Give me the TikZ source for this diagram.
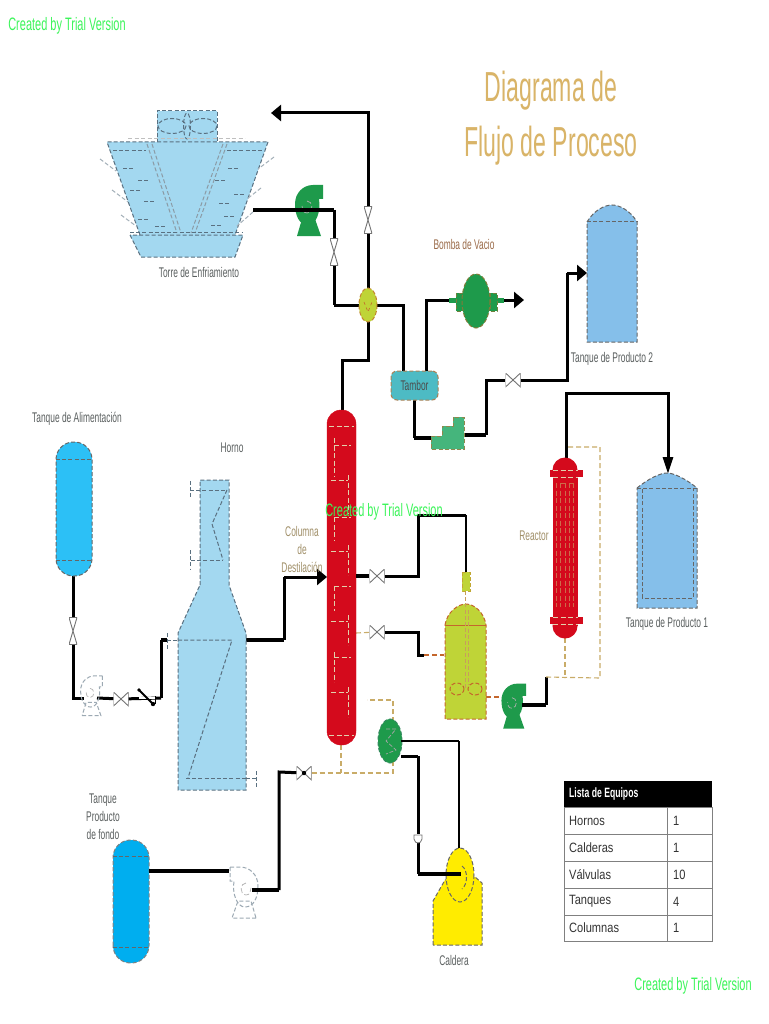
\documentclass[tikz,border=0pt]{standalone}
\usepackage{fontspec}
\setmainfont[FakeStretch=0.6]{Liberation Sans}
\newfontfamily\wmf[FakeStretch=0.61]{Liberation Sans}
\newfontfamily\ttlf[FakeStretch=0.55]{Liberation Sans}
\newfontfamily\cellf[FakeStretch=0.82]{Liberation Sans}
\newfontfamily\hdrf[FakeStretch=0.64]{Liberation Sans}
\usetikzlibrary{arrows.meta}
\definecolor{towerc}{HTML}{A3D8F0}
\definecolor{feedc}{HTML}{2CC0F6}
\definecolor{botc}{HTML}{00AEEF}
\definecolor{prodc}{HTML}{85BFEA}
\definecolor{colc}{HTML}{D40A1C}
\definecolor{agit}{HTML}{BFD437}
\definecolor{pumpg}{HTML}{1E9A4B}
\definecolor{stairc}{HTML}{45B57C}
\definecolor{tamc}{HTML}{4DBBC4}
\definecolor{yelc}{HTML}{FFEC00}
\definecolor{tan}{HTML}{C9AC68}
\definecolor{rust}{HTML}{C4662C}
\definecolor{edgeg}{HTML}{5A7080}
\definecolor{titlec}{HTML}{D9B468}
\definecolor{wm}{HTML}{3CF55A}
\definecolor{lab}{HTML}{5A5F5F}
\definecolor{labtan}{HTML}{A08F68}
\definecolor{labbr}{HTML}{9A6A48}
\tikzset{
  pipe/.style={draw=black,line width=3pt,line join=miter},
  pipeT/.style={draw=black,line width=2.4pt,line join=miter},
  pipeB/.style={draw=black,line width=4pt,line join=miter},
  tip/.style={-{Triangle[length=10pt,width=16pt]}},
  tipS/.style={-{Triangle[length=17pt,width=10pt]}},
  dashL/.style={line width=1pt,dash pattern=on 4pt off 2.2pt},
  outl/.style={dashL,draw=edgeg},
  tandash/.style={line width=1.1pt,dash pattern=on 5pt off 3pt,draw=tan},
  rustdash/.style={line width=1.1pt,dash pattern=on 5pt off 3pt,draw=rust},
  pale/.style={line width=.7pt,dash pattern=on 5pt off 2.5pt,draw=tan!55},
  valveh/.style={inner sep=0,minimum width=15pt,minimum height=14pt,path picture={
    \draw[fill=white,draw=black!55,line width=.9pt]
      (path picture bounding box.north west) -- (path picture bounding box.south east) --
      (path picture bounding box.north east) -- (path picture bounding box.south west) -- cycle;}},
  valvev/.style={inner sep=0,minimum width=8pt,minimum height=27pt,path picture={
    \draw[fill=white,draw=black!55,line width=.9pt]
      (path picture bounding box.north west) -- (path picture bounding box.north east) --
      (path picture bounding box.south west) -- (path picture bounding box.south east) -- cycle;}},
  lbl/.style={inner sep=0,align=center,text=lab,font=\fontsize{14}{18}\selectfont},
  wmk/.style={inner sep=0,text=wm,font=\wmf\fontsize{18}{20}\selectfont},
  ttl/.style={inner sep=0,text=titlec,font=\ttlf\fontsize{42}{44}\selectfont},
  cell/.style={inner sep=0,anchor=west,text=black!80,font=\cellf\fontsize{13.5}{15}\selectfont},
  pump/.pic={
    \path[pic actions] (16,-22) -- (16,-8) -- (12,-8) .. controls (14,5) and (9,18) .. (1,18)
       .. controls (-8,18) and (-12,8) .. (-12,-3) .. controls (-12,-14) and (-4,-22) .. (6,-22) -- cycle;
    \path[pic actions] (-10,29) -- (14,29) -- (8,12) -- (-5,12) -- cycle;
    \draw[pale,draw=white!70!black] (0,-6) .. controls (6,-6) and (7,5) .. (0,6) .. controls (-4,6) and (-5,2) .. (-5,-1);
  }
}
\begin{document}
\begin{tikzpicture}[x=1pt,y=-1pt]
\path[fill=white] (0,0) rectangle (768,1024);
\useasboundingbox (0,0) rectangle (768,1024);

% ---- junction coordinates
\coordinate (twrOut) at (253,210);
\coordinate (twrBend) at (334,210);
\coordinate (topBend) at (334,305);
\coordinate (sepL) at (368,305);
\coordinate (sepR) at (403,305);
\coordinate (tamIn) at (403,372);
\coordinate (ventEnd) at (271,113);
\coordinate (colTop) at (342,410);
\coordinate (colUp) at (342,360);
\coordinate (sepDown) at (368,360);
\coordinate (tamOutA) at (426,372);
\coordinate (tamOutB) at (426,300);
\coordinate (vacIn) at (450,300);
\coordinate (vacOut) at (503,300);
\coordinate (vacEnd) at (524,300);
\coordinate (tamBot) at (414,400);
\coordinate (tamBotB) at (414,438);
\coordinate (stairIn) at (432,438);
\coordinate (stairOut) at (465,435);
\coordinate (stairB) at (486,435);
\coordinate (stairC) at (486,380);
\coordinate (p2A) at (567,380);
\coordinate (p2B) at (567,273);
\coordinate (p2End) at (587,273);
\coordinate (reaTop) at (566,458);
\coordinate (reaA) at (566,393);
\coordinate (reaB) at (668,393);
\coordinate (p1End) at (668,474);
\coordinate (hornOut) at (246,640);
\coordinate (hornB) at (284,640);
\coordinate (hornC) at (284,577);
\coordinate (colIn) at (327,577);
\coordinate (feedBot) at (73,576);
\coordinate (feedB) at (73,698);
\coordinate (pumpF) at (84,698);
\coordinate (pumpFr) at (97,698);
\coordinate (chkR) at (161,698);
\coordinate (chkU) at (161,640);
\coordinate (hornIn) at (167,640);
\coordinate (colS1) at (356,576);
\coordinate (s1B) at (418,576);
\coordinate (s1C) at (418,515);
\coordinate (s1D) at (466,515);
\coordinate (motorT) at (466,572);
\coordinate (s2B) at (418,632);
\coordinate (s2C) at (418,655);
\coordinate (s2D) at (424,655);
\coordinate (p3Out) at (522,705);
\coordinate (p3B) at (546,705);
\coordinate (p3C) at (546,677);
\coordinate (rebA) at (401,741);
\coordinate (rebB) at (459,741);
\coordinate (calT) at (459,851);
\coordinate (rebC) at (401,756);
\coordinate (rebD) at (418,756);
\coordinate (rebE) at (418,874);
\coordinate (calIn) at (461,874);
\coordinate (botOut) at (149,871);
\coordinate (botIn) at (229,871);
\coordinate (wpOut) at (252,890);
\coordinate (wpB) at (279,890);
\coordinate (wpC) at (279,772);

% ---- valves
\node[valvev] (v1) at (334,252) {};
\node[valvev] (v2) at (368,220) {};
\node[valveh] (v3) at (513,380) {};
\node[valvev] (v4) at (73,631) {};
\node[valveh] (v5) at (121,699) {};
\node[valveh] (v6) at (377,576) {};
\node[valveh] (v7) at (377,632) {};
\node[valveh] (v8) at (304,773) {};
\node[inner sep=0,minimum size=8pt] (v9) at (418,838) {};

% ---- pipes
\draw[pipe] (twrBend) -- (v1);
\draw[pipe] (v1) -- (topBend);
\draw[pipe] (topBend) -- (sepL);
\draw[pipe] (sepL) -- (sepR) -- (tamIn);
\draw[pipe] (sepL) -- (v2);
\draw[pipe,tip] (v2) |- (ventEnd);
\draw[pipe] (colTop) -- (colUp) -- (sepDown) -- (sepL);
\draw[pipe] (tamOutA) -- (tamOutB) -- (vacIn);
\draw[pipe,tip] (vacOut) -- (vacEnd);
\draw[pipe] (tamBot) -- (tamBotB);
\draw[pipeB] (tamBotB) -- (stairIn);
\draw[pipeB] (stairOut) -- (stairB);
\draw[pipe] (stairB) -- (stairC) -- (v3);
\draw[pipe] (v3) -- (p2A) -- (p2B);
\draw[pipe,tip] (p2B) -- (p2End);
\draw[pipe,tipS] (reaTop) -- (reaA) -- (reaB) -- (p1End);
\draw[pipeB] (hornOut) -- (hornB);
\draw[pipe] (hornB) -- (hornC);
\draw[pipe] (feedBot) -- (v4);
\draw[pipe] (v4) -- (feedB) -- (pumpF);
\draw[pipe] (pumpFr) -- (v5);
\draw[pipe] (v5) -- (chkR);
\draw[pipe] (chkR) -- (chkU);
\draw[pipeB] (chkU) -- (hornIn);
\draw[pipe] (v6) -- (s1B) -- (s1C);
\draw[pipe] (s1C) -- (s1D);
\draw[pipeT] (s1D) -- (motorT);
\draw[pipe] (v7) -- (s2B) -- (s2C) -- (s2D);
\draw[pipe] (p3B) -- (p3C);
\draw[pipeT] (rebB) -- (calT);
\draw[pipe] (rebD) -- (v9);
\draw[pipe] (v9) -- (rebE);
\draw[pipe] (wpB) -- (wpC) -- (v8);

% check valve on the feed line
\coordinate (chkA) at (139,690);
\coordinate (chkB) at (153,704);
\draw[line width=2.5pt,white] (139,698) -- (155,698);
\draw[line width=1.8pt] (chkA) -- (chkB);
\fill (chkA) circle (1.8pt) (chkB) circle (2.2pt);
\draw[line width=1pt] (155,704) -- (155,696);
% valve dot
\fill (304,773) circle (2.2pt);
% small heart valve
\draw[fill=white,draw=black!55,line width=.8pt] (414,835) -- (422,835) -- (422,839) .. controls (422,842) and (419,843) .. (418,843) .. controls (417,843) and (414,842) .. (414,839) -- cycle;

% ---- dashed lines
\draw[tandash] (356,633) -- (v7);
\draw[rustdash] (s2D) -- (444,655);
\draw[rustdash] (486,697) -- (503,697);
\draw[tandash] (p3C) -- (600,678) -- (600,447) -- (566,447);
\draw[tandash] (565,638) -- (565,678);
\draw[tandash] (341,745) -- (341,773);
\draw[tandash] (v8) -- (393,773) -- (393,762);
\draw[tandash] (393,722) -- (393,700) -- (367,700);
\draw[outl,dash pattern=on 4pt off 2pt] (167,640) -- (178,640);
\draw[outl] (167,633) -- (167,649);

% ---- cooling tower
\fill[towerc] (157,111) rectangle (217,143);
\draw[outl] (157,143) -- (157,111) -- (217,111) -- (217,143);
\draw[outl] (172,126) ellipse (14 and 7.5);
\draw[outl] (203,126) ellipse (14 and 7.5);
\draw[outl] (187,126) ellipse (3.5 and 13);
\fill[towerc] (107,142) -- (268,142) -- (235,235) -- (140,235) -- cycle;
\draw[outl] (268,142) -- (235,235) (140,235) -- (107,142) -- (268,142);
\draw[line width=.8pt,dash pattern=on 4pt off 2.5pt,draw=black!25] (128,138) -- (245,138);
\fill[towerc] (130,235) -- (243,235) -- (235,257) -- (141,257) -- cycle;
\draw[outl] (130,235) -- (141,257) -- (235,257) -- (243,235) -- cycle;
\draw[outl,draw=edgeg!70] (147,144) -- (177,233) (152,144) -- (181,233);
\draw[outl,draw=edgeg!70] (227,144) -- (195,233) (223,144) -- (191,233);
\draw[outl] (130,233) -- (243,233);
\draw[outl] (113,151) -- (146,151) (227,151) -- (262,151);
\foreach \x/\y in {124/168,139/180,131/190,229/168,216/180,235/194,220/203,212/225,225/216,145/201,139/219,156/226}{
  \draw[line width=.9pt,draw=edgeg,dash pattern=on 4pt off 2pt] (\x-1,\y) -- (\x+10,\y);
}
\draw[outl,draw=edgeg!55] (100,159) -- (116,171) (112,190) -- (128,202) (121,215) -- (136,226);
\draw[outl,draw=edgeg!55] (274,157) -- (258,169) (261,188) -- (247,199) (253,212) -- (237,226);

% ---- pump 1
\pic[fill=pumpg] at (307,207) {pump};
\draw[pipeB] (twrOut) -- (twrBend);

% ---- sep drum
\draw[fill=agit,draw=rust!70!agit,dashL] (368,305) ellipse (9 and 17);
\draw[rust,line width=.6pt,dash pattern=on 3pt off 3pt] (364,302) -- (368,312) -- (372,302);

% ---- vacuum pump
\fill[pumpg] (449,298) rectangle (457,303);
\fill[pumpg] (456,293) rectangle (497,311);
\fill[pumpg] (497,298) rectangle (504,303);
\draw[rust!50!pumpg,dashL] (456,293) rectangle (463,311) (490,293) rectangle (497,311);
\draw[fill=pumpg,draw=rust!60!pumpg,dashL] (476,301) ellipse (14 and 27);

% ---- tambor
\node[draw=brown!70!gray,fill=tamc,dashL,rounded corners=6pt,minimum width=47pt,minimum height=29pt,inner sep=0,text=black!70,font=\fontsize{14}{15}\selectfont] (tambor) at (414.5,385.5) {Tambor};

% ---- stair compressor
\draw[fill=stairc,draw=rust!60!stairc,dashL] (431,436) -- (442,436) -- (442,426) -- (453,426) -- (453,417) -- (464,417) -- (464,449) -- (431,449) -- cycle;

% ---- product tank 2
\draw[fill=prodc,draw=black!60,dashL] (587,222) .. controls (594,210) and (605,205) .. (612,205) .. controls (619,205) and (630,210) .. (637,222) -- (637,342) -- (587,342) -- cycle;
\draw[draw=black!60,dashL] (587,222) -- (637,222);

% ---- product tank 1
\draw[fill=prodc,draw=black!60,dashL] (637,488) .. controls (648,479) and (660,473) .. (667,473) .. controls (674,473) and (686,479) .. (697,488) -- (697,608) -- (637,608) -- cycle;
\draw[draw=black!60,dashL] (637,488) -- (697,488) (642,489) -- (642,598) -- (693,598) -- (693,489);

% ---- feed tank
\draw[fill=feedc,draw=black!60,dashL,rounded corners=17.5pt] (56,576) -- (56,442) -- (92,442) -- (92,576) -- cycle;
\draw[draw=black!60,dashL] (56,459) -- (92,459) (56,560) -- (92,560);

% ---- bottom tank
\draw[fill=botc,draw=black!50,dashL,rounded corners=17.5pt] (113,963) -- (113,840) -- (149,840) -- (149,963) -- cycle;
\draw[draw=black!60,dashL] (113,856) -- (149,856) (113,947) -- (149,947);

% ---- white pumps
\pic[draw=edgeg!60,dashL,scale=.78] at (90,693) {pump};
\pic[draw=edgeg!60,dashL,xscale=-1] at (246,889) {pump};
\draw[pipeB] (botOut) -- (botIn);
\draw[pipeB] (wpOut) -- (wpB);

% ---- furnace
\fill[towerc] (200,480) -- (229,480) -- (229,585) -- (246,633) -- (246,790) -- (178,790) -- (178,633) -- (200,585) -- cycle;
\draw[outl] (200,585) -- (200,480) -- (229,480) -- (229,585) -- (246,633) -- (246,790) -- (178,790) -- (178,633) -- (200,585);
\draw[outl] (190,490) -- (227,490) (190,481) -- (190,499);
\draw[outl] (227,490) -- (212,524) -- (223,560);
\draw[outl] (191,560) -- (223,560) (190,550) -- (190,569);
\draw[outl] (178,640) -- (232,640) -- (188,778);
\draw[outl] (186,778) -- (246,778) (246,778) -- (256,778) (256,771) -- (256,788);

% ---- distillation column
\draw[fill=colc,draw=colc,rounded corners=14pt] (327,745) -- (327,410) -- (356,410) -- (356,745) -- cycle;
\draw[pale] (329,426) -- (354,426) (329,735) -- (354,735);
\foreach \y in {445,517,586,657}{\draw[pale] (334,\y) -- (351,\y);}
\foreach \y in {480,551,621,692}{\draw[pale] (331,\y) -- (348,\y);}
\foreach \a/\b in {438/477,517/540,586/611,652/682}{\draw[pale] (334,\a) -- (334,\b);}
\foreach \a/\b in {475/513,545/575,615/645,687/717}{\draw[pale] (348,\a) -- (348,\b);}
\draw[pipeB] (colS1) -- (v6);
\draw[pipe,tip] (hornC) -- (colIn);

% ---- reactor
\fill[colc] (565,470) circle (12.5);
\fill[colc] (565,626) circle (12.5);
\fill[colc] (553,470) rectangle (578,626);
\fill[colc] (550,470) rectangle (583,477);
\fill[colc] (550,617) rectangle (583,624);
\draw[pale] (553,470) -- (578,470) (553,477) -- (578,477) (553,617) -- (578,617) (553,624) -- (578,624);
\foreach \x in {556,560,565,569,573}{\draw[pale,draw=tan!60!colc] (\x,483) -- (\x,607);}
\draw[pale,draw=tan!60!colc] (560,483) -- (565,483) (569,483) -- (573,483);

% ---- agitated tank
\draw[fill=agit,draw=rust,dashL] (445,625) .. controls (447,612) and (458,604) .. (466,604) .. controls (474,604) and (484,612) .. (486,625) -- (486,719) -- (445,719) -- cycle;
\draw[rust,line width=1pt] (445,625) -- (486,625);
\draw[tan!80!rust,dashL] (465,591) -- (465,690) (468,610) -- (468,685);
\draw[rust,dashL] (457,689) ellipse (7 and 6) (475,689) ellipse (7 and 6);
\draw[fill=agit,draw=rust!40!agit,dashL] (462,572) rectangle (470,591);

% ---- pump reactor
\pic[fill=pumpg,scale=.88] at (512,703) {pump};
\draw[pipeB] (p3Out) -- (p3B);

% ---- reboiler
\draw[fill=pumpg,draw=edgeg!40!pumpg,dashL] (390,741) ellipse (12 and 22);
\draw[line width=.7pt,draw=white!65!black,dash pattern=on 4pt off 2pt] (386,729) -- (396,729) -- (386,741) -- (396,750) -- (386,754);
\draw[pipeT] (rebA) -- (rebB);
\draw[pipe] (rebC) -- (rebD);

% ---- caldera
\draw[fill=yelc,draw=black!60,dashL] (433,945) -- (433,901) -- (445,880) -- (475,877) -- (482,883) -- (482,945) -- cycle;
\draw[fill=yelc,draw=black!60,dashL] (460,875) ellipse (14 and 27);
\draw[draw=black!60,dashL] (462,866) .. controls (468,870) and (468,884) .. (462,889);
\draw[pipeB] (rebE) -- (calIn);

% ---- table
\fill[black] (564,781) rectangle (712,807);
\draw[black!50,line width=.9pt] (564,807) rectangle (712,941);
\foreach \y in {834,861,888,915}{\draw[black!50,line width=.9pt] (564,\y) -- (712,\y);}
\draw[black!50,line width=.9pt] (667,807) -- (667,941);
\node[cell,text=white,font=\hdrf\bfseries\fontsize{13.5}{15}\selectfont] (tt) at (569,794) {Lista de Equipos};
\node[cell] (h1) at (569,821) {Hornos};      \node[cell] (n1) at (673,821) {1};
\node[cell] (h2) at (569,847.5) {Calderas};  \node[cell] (n2) at (673,847.5) {1};
\node[cell] (h3) at (569,874.5) {Válvulas};  \node[cell] (n3) at (673,874.5) {10};
\node[cell] (h4) at (569,901.5) {Tanques};   \node[cell] (n4) at (673,901.5) {4};
\node[cell] (h5) at (569,928) {Columnas};    \node[cell] (n5) at (673,928) {1};

% ---- labels
\node[ttl] (t1) at (551,91) {Diagrama de};
\node[ttl] (t2) at (551,146) {Flujo de Proceso};
\node[lbl] (l1) at (199,272) {Torre de Enfriamiento};
\node[lbl,text=labbr] (l2) at (464,244) {Bomba de Vacio};
\node[lbl] (l3) at (612,359) {Tanque de Producto 2};
\node[lbl] (l4) at (77,419) {Tanque de Alimentación};
\node[lbl] (l5) at (232,448) {Horno};
\node[lbl,text=labtan] (l6) at (302,549) {Columna\\de\\Destilación};
\node[lbl,text=labtan] (l7) at (534,536) {Reactor};
\node[lbl] (l8) at (667,624) {Tanque de Producto 1};
\node[lbl] (l9) at (103,817) {Tanque\\Producto\\de fondo};
\node[lbl] (l10) at (454,960) {Caldera};
\node[wmk] (w1) at (67,26) {Created by Trial Version};
\node[wmk] (w2) at (384,512) {Created by Trial Version};
\node[wmk] (w3) at (693,986) {Created by Trial Version};
\end{tikzpicture}
\end{document}
